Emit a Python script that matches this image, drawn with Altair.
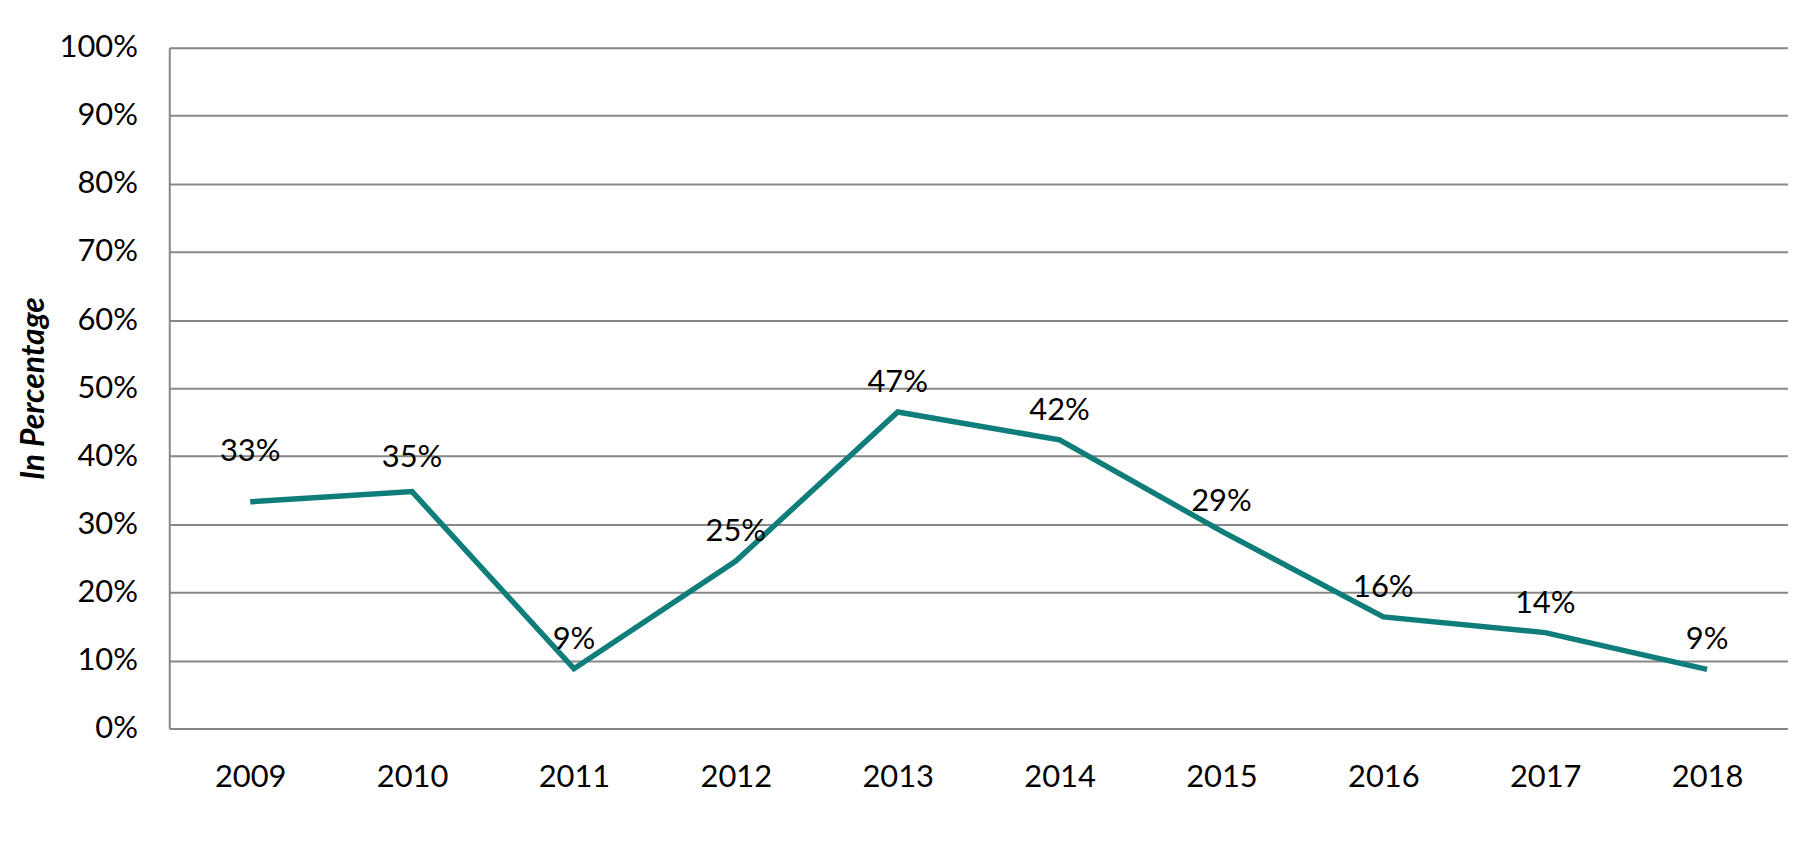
import altair as alt
import pandas as pd

years = ["2009", "2010", "2011", "2012", "2013", "2014", "2015", "2016", "2017", "2018"]
values = [33.3, 34.8, 8.8, 24.6, 46.5, 42.4, 29.0, 16.4, 14.1, 8.7]
labels = ["33%", "35%", "9%", "25%", "47%", "42%", "29%", "16%", "14%", "9%"]
y_ticks = [0, 10, 20, 30, 40, 50, 60, 70, 80, 90, 100]

df = pd.DataFrame({"year": years, "value": values, "label": labels})

FONT = "Lato"
GRID = "#878787"
TEAL = "#0F7E7B"

x = alt.X("year:O", scale=alt.Scale(type="point", padding=0.5),
          axis=alt.Axis(title=None, labelAngle=0, ticks=False, domainColor=GRID,
                        domainWidth=2, labelFont=FONT, labelFontSize=31,
                        labelColor="black", labelPadding=34, grid=False))
y = alt.Y("value:Q", scale=alt.Scale(domain=[0, 100], nice=False),
          axis=alt.Axis(title="In Percentage", values=y_ticks,
                        labelExpr="datum.value + '%'", ticks=False,
                        domainColor=GRID, domainWidth=2, gridColor=GRID,
                        gridWidth=2, labelFont=FONT, labelFontSize=31,
                        labelColor="black", labelPadding=32,
                        titleFont=FONT, titleFontSize=32, titleFontWeight="bold",
                        titleFontStyle="italic", titleColor="black",
                        titleAngle=-90, titleX=-136, titleY=342,
                        titleAlign="center", titleBaseline="middle"))

base = alt.Chart(df)

line = base.mark_line(color=TEAL, strokeWidth=5.5).encode(x=x, y=y)


def labels_layer(cond, dy):
    return base.transform_filter(cond).mark_text(
        font=FONT, fontSize=31, color="black", dy=dy,
        baseline="alphabetic", align="center").encode(x=x, y=y, text="label:N")


txt_main = labels_layer("datum.year != '2009' && datum.year != '2010'", -20)
txt_2009 = labels_layer("datum.year == '2009'", -41)
txt_2010 = labels_layer("datum.year == '2010'", -25)

chart = alt.layer(line, txt_main, txt_2009, txt_2010).properties(
    width=1626, height=684,
    autosize=alt.AutoSizeParams(type="none"),
    padding={"left": 162, "top": 38, "right": 0, "bottom": 100},
).configure_view(stroke=None)

chart.save("out.html", embed_options={"renderer": "svg", "actions": False})
